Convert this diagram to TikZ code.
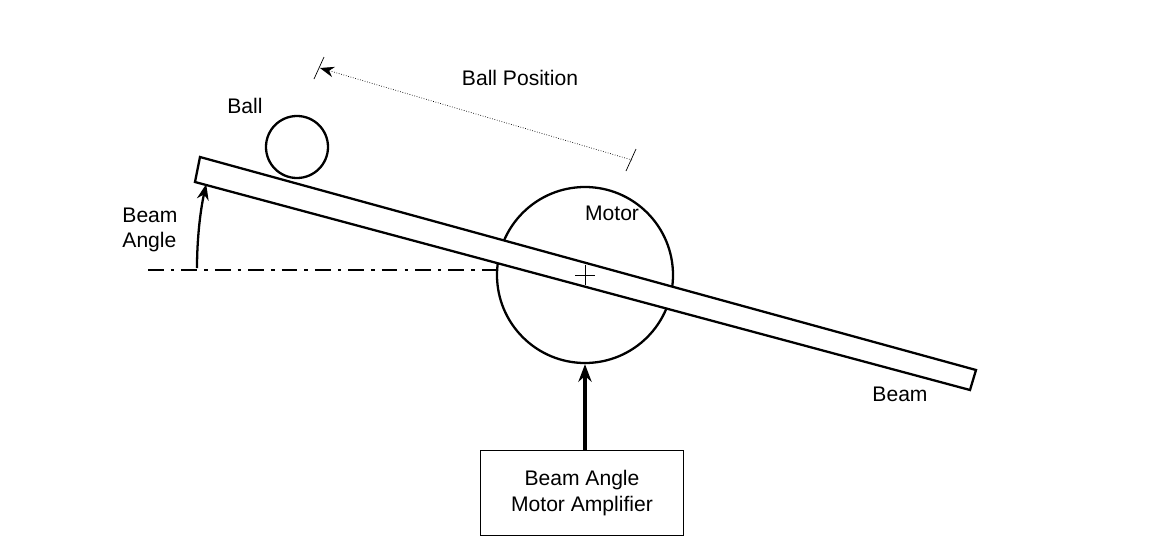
\documentclass[tikz,border=0pt]{standalone}
\usepackage{fontspec}
\setmainfont{Liberation Sans}
\usetikzlibrary{arrows.meta}
\begin{document}
\begin{tikzpicture}[x=0.02cm,y=-0.02cm,
    lbl/.style={font=\fontsize{12}{14.5}\selectfont, inner sep=1pt},
    part/.style={draw, line width=1.3pt}]
    % frame
    \useasboundingbox (0,0) rectangle (1154,558);

    % Motor circle and pivot
    \node[part, circle, minimum size=176*0.02cm, inner sep=0pt] (Motor) at (585,275) {};
    \coordinate (Pivot) at (585,275);

    % Beam over the motor
    \coordinate (B1) at (200,157);
    \coordinate (B2) at (976,370);
    \coordinate (B3) at (970,390);
    \coordinate (B4) at (195,182);
    \draw[part, fill=white] (B1) -- (B2) -- (B3) -- (B4) -- cycle;
    \draw (575,275) -- (595,275) (585,265) -- (585,285);

    % Ball
    \node[part, circle, minimum size=62*0.02cm, inner sep=0pt] (Ball) at (297,147) {};
    \node[lbl] (BallLbl) at (245,106) {Ball};
    \node[lbl, anchor=west] (MotorLbl) at (583,213) {Motor};
    \node[lbl] (BeamLbl) at (900,394) {Beam};

    % Ball position dimension
    \coordinate (D1) at (320,68);
    \coordinate (D2) at (632,160);
    \draw[densely dotted, -{Stealth[length=8pt]}] (D2) -- (D1);
    \draw (314,79) -- (324,57) (626,171) -- (636,149);
    \node[lbl] (PosLbl) at (520,78) {Ball Position};

    % Beam angle
    \coordinate (H1) at (148,270);
    \coordinate (H2) at (498,270);
    \draw[line width=1.5pt, dash pattern=on 9pt off 4pt on 2pt off 4pt] (H1) -- (H2);
    \draw[line width=1.3pt, -{Stealth[length=9pt]}] (197,268) arc[start angle=180, end angle=192.5, radius=388];
    \node[lbl, align=left] (AngleLbl) at (150,230) {Beam\\Angle};

    % Amplifier
    \node[part, line width=1pt, lbl, inner sep=0pt, minimum width=203*0.02cm, minimum height=85*0.02cm, align=center] (Amp) at (582,493) {Beam Angle\\Motor Amplifier};
    \draw[line width=2pt, -{Stealth[length=10pt]}] (Amp.north -| Motor.south) -- (Motor.south);
\end{tikzpicture}
\end{document}
